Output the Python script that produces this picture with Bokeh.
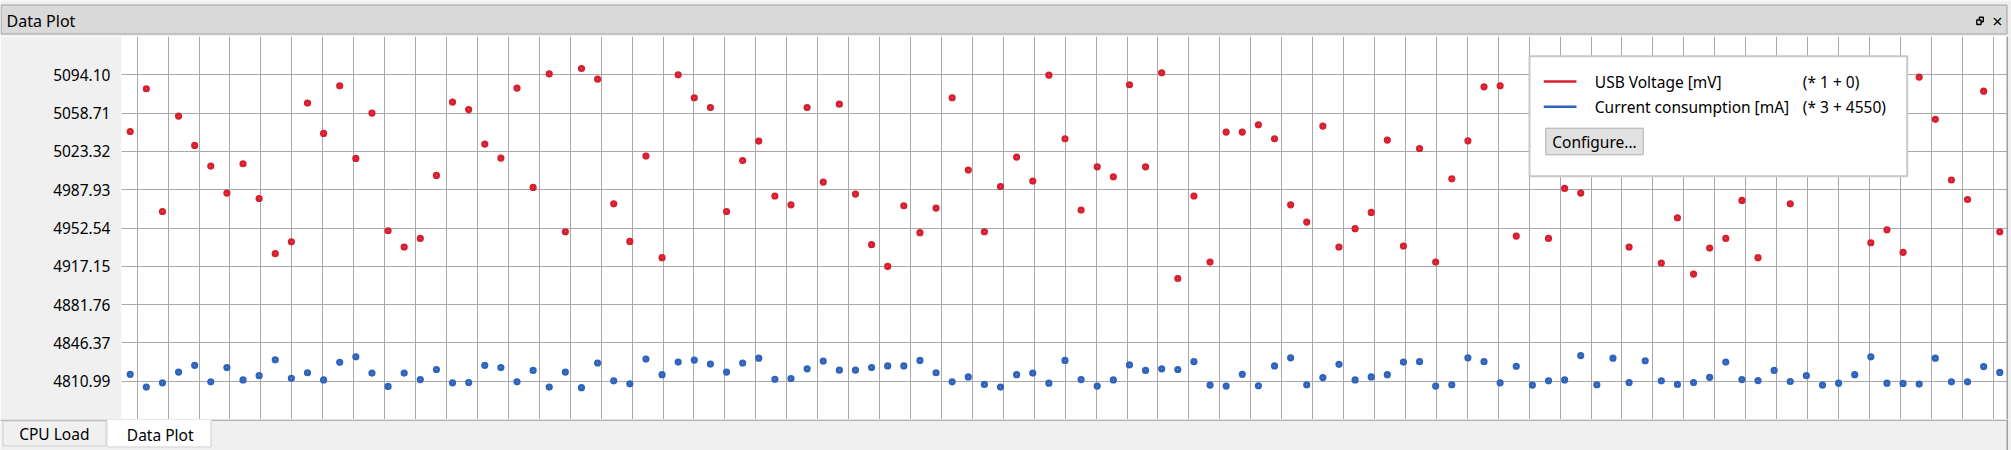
import numpy as np
from bokeh.plotting import figure
from bokeh.layouts import column
from bokeh.models import (Range1d, FixedTicker, BoxAnnotation, Label,
                          PrintfTickFormatter, ColumnDataSource)
from bokeh.core.properties import value
from bokeh.embed import file_html
from bokeh.resources import INLINE

# ---------------- data ----------------
window_title = "Data Plot"
tab_labels = ["CPU Load", "Data Plot"]
series_names = ["USB Voltage [mV]", "Current consumption [mA]"]
series_transforms = ["(* 1 + 0)", "(* 3 + 4550)"]
current_scale = 3
current_offset = 4550
button_label = "Configure..."

# None = sample hidden behind the legend box
usb_voltage_mv = [
    5041.7, 5081.2, 4967.8, 5056.0, 5028.8, 5009.8, 4984.8, 5011.9, 4979.8, 4928.8,
    4939.8, 5068.0, 5039.9, 5083.9, 5016.8, 5058.7, 4950.0, 4935.0, 4942.9, 5001.1,
    5068.9, 5062.0, 5030.1, 5017.2, 5081.8, 4990.0, 5095.0, 4949.1, 5099.9, 5090.1,
    4974.9, 4940.1, 5019.0, 4925.1, 5094.1, 5072.9, 5063.9, 4967.8, 5014.9, 5032.9,
    4982.1, 4974.0, 5063.9, 4995.0, 5067.0, 4983.9, 4937.1, 4917.0, 4973.1, 4948.2,
    4971.0, 5072.9, 5006.1, 4949.1, 4990.9, 5018.1, 4995.9, 5093.8, 5035.0, 4969.1,
    5009.1, 4999.9, 5084.9, 5009.1, 5095.9, 4905.9, 4982.1, 4921.1, 5041.2, 5041.2,
    5047.9, 5035.0, 4974.0, 4958.0, 5046.7, 4935.0, 4951.9, 4966.9, 5033.8, 4935.9,
    5026.0, 4921.1, 4998.0, 5033.1, 5083.0, 5083.9, 4945.1, 5060.8, 4942.9, 4989.1,
    4984.8, None, None, 4935.0, None, 4920.2, 4962.0, 4910.0, 4934.0, 4942.9,
    4978.0, 4925.1, None, 4974.9, None, None, 5003.6, None, 4938.9, 4950.9,
    4930.0, 5092.0, 5053.0, 4996.9, 4978.9, 5079.0, 4949.1,
]

current_ma = [
    89.1, 85.2, 86.5, 89.8, 91.9, 86.8, 91.2, 87.4, 88.7, 93.6,
    87.9, 89.6, 87.4, 92.8, 94.5, 89.5, 85.4, 89.5, 87.5, 90.6,
    86.5, 86.6, 91.9, 91.2, 86.8, 90.3, 85.2, 89.8, 85.0, 92.6,
    87.1, 86.2, 93.8, 89.0, 92.9, 93.5, 92.3, 89.8, 92.6, 94.1,
    87.6, 87.8, 90.8, 93.2, 90.4, 90.4, 91.2, 91.7, 91.7, 93.4,
    89.6, 86.8, 88.3, 86.0, 85.2, 89.0, 89.5, 86.4, 93.4, 87.5,
    85.5, 87.4, 92.0, 90.3, 90.8, 90.6, 93.0, 85.8, 85.5, 89.1,
    85.6, 91.7, 94.2, 85.9, 88.1, 92.2, 87.4, 88.3, 89.0, 92.9,
    93.0, 85.5, 85.9, 94.2, 93.0, 86.5, 91.6, 85.8, 87.1, 87.4,
    94.9, 85.9, 94.1, 86.6, 93.3, 87.1, 86.0, 86.6, 88.2, 92.9,
    87.5, 87.2, 90.3, 86.9, 88.7, 85.8, 86.4, 89.0, 94.5, 86.4,
    86.3, 86.1, 94.1, 86.8, 86.8, 91.5, 89.7,
]

y_tick_values = [4810.99, 4846.37, 4881.76, 4917.15, 4952.54,
                 4987.93, 5023.32, 5058.71, 5094.10]
y_min, y_max = 4775.60, 5129.49

# ---------------- styling ----------------
RED = "#d81f30"
BLUE = "#2f64bd"
GRID = "#a8a8a8"
PANEL = "#f0f0f0"
TITLEBAR = "#dadada"
EDGE = "#a0a0a0"
TABEDGE = "#cdcdcd"
FONT = "Noto Sans"
FS = "15.5px"

W = 2011
TOP_H, MAIN_H, BOT_H = 36, 383, 31
FRAME_L = 121
G_TOP = TOP_H                  # global y of main frame top
G_BOT = TOP_H + MAIN_H         # global y of main frame bottom

n = len(usb_voltage_mv)
sample = np.arange(n)
volt = np.array([np.nan if v is None else v for v in usb_voltage_mv], dtype=float)
curr_plot = np.array(current_ma, dtype=float) * current_scale + current_offset
src = ColumnDataSource(dict(sample=sample, volt=volt, curr=curr_plot))


def chrome_fig(h):
    f = figure(width=W, height=h, x_range=Range1d(0, W), y_range=Range1d(h, 0),
               output_backend="svg", toolbar_location=None,
               x_axis_location=None, y_axis_location=None,
               min_border_left=0, min_border_right=0,
               min_border_top=0, min_border_bottom=0,
               background_fill_color=PANEL, border_fill_color=PANEL,
               outline_line_color=None, frame_align=False)
    f.xgrid.visible = False
    f.ygrid.visible = False
    return f


def ftext(f, x, y, s, align="left", size=FS):
    f.text(x=[x], y=[y], text=[s], text_font=value(FONT),
           text_font_size=value(size), text_align=value(align),
           text_baseline=value("middle"), text_color="black")


# ---------------- title bar ----------------
top = chrome_fig(TOP_H)
top.quad(left=[0.5], right=[2006.5], top=[4.5], bottom=[33.5],
         fill_color=TITLEBAR, line_color=EDGE, line_width=1)
ftext(top, 6, 20.5, window_title, size="16px")
top.quad(left=[1978.8], right=[1982.8], top=[16.8], bottom=[21.3],
         fill_color=None, line_color="black", line_width=1.4)
top.quad(left=[1976.3], right=[1980.5], top=[19.5], bottom=[24.0],
         fill_color=TITLEBAR, line_color="black", line_width=1.4)
ftext(top, 1997, 20.0, "\u00d7", align="center", size="18px")

# ---------------- main plot ----------------
x_lo = -0.540                     # sample index at frame left edge
x_hi = x_lo + (W - FRAME_L) / 16.117
p = figure(width=W, height=MAIN_H,
           x_range=Range1d(x_lo, x_hi), y_range=Range1d(y_min, y_max),
           output_backend="svg", toolbar_location=None, x_axis_location=None,
           min_border_left=FRAME_L, min_border_top=0, min_border_right=0,
           min_border_bottom=0, frame_align=False,
           border_fill_color=PANEL, background_fill_color="white",
           outline_line_color=None)

grid_start, grid_step = 0.434, 1.9193
p.xgrid.ticker = FixedTicker(ticks=[grid_start + k * grid_step for k in range(61)])
p.ygrid.ticker = FixedTicker(ticks=[y_min] + y_tick_values + [y_max])
for g in (p.xgrid, p.ygrid):
    g.grid_line_color = GRID
    g.grid_line_width = 1
    g.grid_line_alpha = 1

ax = p.yaxis[0]
ax.ticker = FixedTicker(ticks=y_tick_values)
ax.formatter = PrintfTickFormatter(format="%.2f")
ax.axis_line_color = None
ax.major_tick_line_color = None
ax.minor_tick_line_color = None
ax.major_tick_out = 0
ax.major_tick_in = 0
ax.major_label_standoff = 11
ax.major_label_text_font = FONT
ax.major_label_text_font_size = FS
ax.major_label_text_color = "black"

p.scatter("sample", "volt", source=src, size=4.0, fill_color="white",
          line_color=RED, line_width=3.2)
p.scatter("sample", "curr", source=src, size=4.0, fill_color="white",
          line_color=BLUE, line_width=3.2)


def box(x0, y0, x1, y1, fill=None, line=None, lw=1.0):
    # global px -> screen units relative to the main frame
    p.add_layout(BoxAnnotation(
        left=x0 - FRAME_L, right=x1 - FRAME_L, top=G_BOT - y0, bottom=G_BOT - y1,
        left_units="screen", right_units="screen",
        top_units="screen", bottom_units="screen",
        fill_color=fill, fill_alpha=1 if fill else 0,
        line_color=line, line_alpha=1 if line else 0, line_width=lw))


def text(x, y, s, align="left", size=FS):
    p.add_layout(Label(x=x - FRAME_L, y=G_BOT - y, x_units="screen", y_units="screen",
                       text=s, text_align=align, text_baseline="middle",
                       text_font=FONT, text_font_size=size, text_color="black"))


# window right edge
box(2006, G_TOP - 1, 2007.5, G_BOT + 1, fill=EDGE)
box(2007.5, G_TOP - 1, W + 1, G_BOT + 1, fill=PANEL)

# legend
box(1529, 55.7, 1906.7, 175.7, fill="white", line="#c8c8c8", lw=2)
box(1543.3, 79.8, 1576, 82.2, fill=RED)
box(1543.3, 105.1, 1576, 107.5, fill=BLUE)
text(1594.3, 81, series_names[0])
text(1594.3, 106.3, series_names[1])
text(1802.3, 81, series_transforms[0])
text(1802.3, 106.3, series_transforms[1])
box(1545.3, 127.7, 1642.7, 154.3, fill="#e1e1e1", line="#adadad", lw=1)
text(1594, 141, button_label, align="center")

# ---------------- tab bar ----------------
bot = chrome_fig(BOT_H)
bot.quad(left=[0], right=[2007], top=[0], bottom=[1.2], fill_color=EDGE, line_color=None)
bot.quad(left=[2006], right=[2007.5], top=[0], bottom=[BOT_H], fill_color=EDGE, line_color=None)
bot.quad(left=[2.5], right=[105.5], top=[1.5], bottom=[26.5],
         fill_color=PANEL, line_color=TABEDGE, line_width=1)
bot.quad(left=[106], right=[211], top=[0], bottom=[28], fill_color="white", line_color=None)
bot.multi_line(xs=[[106.5, 106.5, 210.5, 210.5]], ys=[[0, 27.5, 27.5, 0]],
               line_color=TABEDGE, line_width=1)
ftext(bot, 53.8, 14.3, tab_labels[0], align="center")
ftext(bot, 159.7, 15.3, tab_labels[1], align="center")

layout = column(top, p, bot, spacing=0)
open("out.html", "w").write(file_html(layout, INLINE))
